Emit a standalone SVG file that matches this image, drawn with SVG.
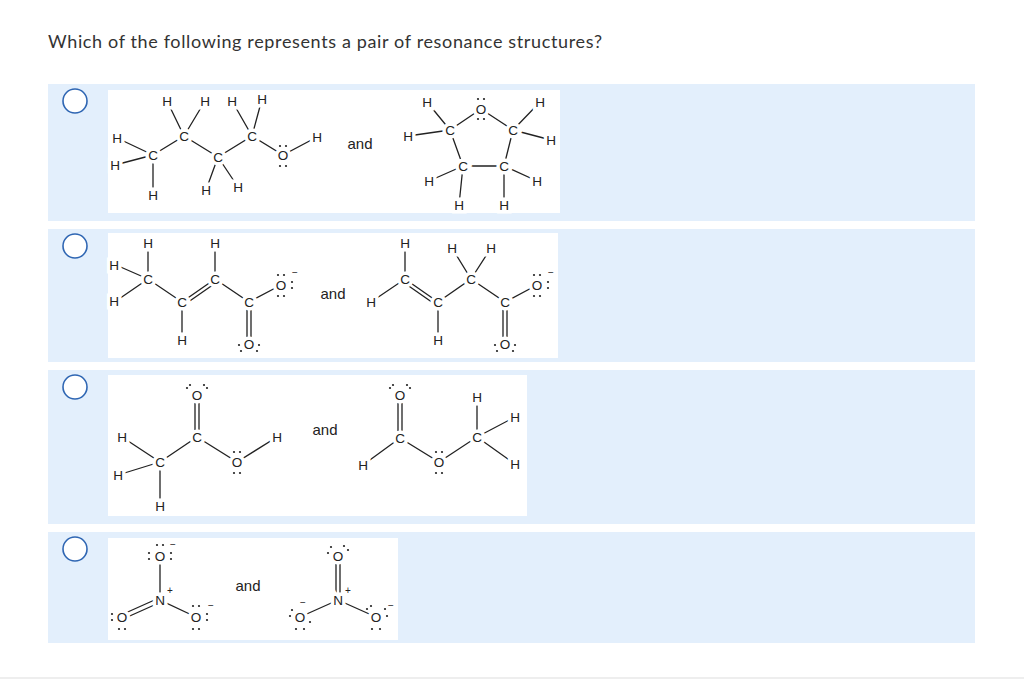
<svg xmlns="http://www.w3.org/2000/svg" width="1024" height="682" viewBox="0 0 1024 682">
<style>
.band{fill:#e3effc}
.box{fill:#fff}
.radio{fill:#fff;stroke:#2f66b3;stroke-width:1.6}
.b{stroke:#222;stroke-width:1.3;fill:none}
.a{font-family:"Liberation Sans",Arial,sans-serif;font-size:13.5px;fill:#222;text-anchor:middle;stroke:#fff;stroke-width:7;paint-order:stroke}
.t{font-family:"Liberation Sans",Arial,sans-serif;font-size:15px;fill:#222}
.s{font-family:"Liberation Sans",Arial,sans-serif;font-size:10px;fill:#222}
.d{fill:#222}
</style>
<rect width="1024" height="682" fill="#fff"/>
<text x="48" y="48" font-family="Lato,'Open Sans',sans-serif" font-size="18" fill="#333" textLength="554">Which of the following represents a pair of resonance structures?</text>
<g id="bands">
<rect class="band" x="48" y="84" width="927" height="137"/>
<rect class="band" x="48" y="229" width="927" height="133"/>
<rect class="band" x="48" y="370" width="927" height="154"/>
<rect class="band" x="48" y="532" width="927" height="111"/>
<rect class="box" x="108" y="90" width="452" height="123"/>
<rect class="box" x="108" y="233" width="450" height="125"/>
<rect class="box" x="108" y="375" width="419" height="141"/>
<rect class="box" x="108" y="538" width="290" height="102"/>
<circle class="radio" cx="75" cy="101" r="12"/>
<circle class="radio" cx="75" cy="246" r="12"/>
<circle class="radio" cx="75" cy="387" r="12"/>
<circle class="radio" cx="75" cy="549" r="12"/>
</g>
<line x1="0" y1="678" x2="1024" y2="678" stroke="#ddd" stroke-width="1"/>

<g id="connectors">
<path class="b" d="M153 155L117 138M153 155L115 165M153 155L153 195M153 155L184 136L167 101M184 136L205 101M184 136L218 157L206 190M218 157L238 187M218 157L252 136L232 101M252 136L262 99M252 136L283 155L317 137"/>
<path class="b" d="M481 109L450 130L463 166L504 166L513 130L481 109M450 130L427 102M450 130L408 136M513 130L540 102M513 130L551 140M463 166L429 181M463 166L459 205M504 166L537 181M504 166L504 205"/>
<path class="b" d="M148 279L148 243M148 279L116 265M148 279L116 301M148 279L182 302L182 340M182 302L215 279M184 305L217 282M215 279L215 243M215 279L249 302L281 285M247 302L247 344M251 302L251 344"/>
<path class="b" d="M371 302L405 279L405 243M405 279L438 302M403 282L436 305M438 302L438 340M438 302L471 279L452 248M471 279L491 248M471 279L505 302L537 285M503 302L503 344M507 302L507 344"/>
<path class="b" d="M160 462L122 437M160 462L118 475M160 462L160 506M160 462L197 437L237 462L277 437M195 437L195 395M199 437L199 395"/>
<path class="b" d="M363 465L400 438L439 462L477 437L477 397M477 437L515 417M477 437L515 464M398 438L398 395M402 438L402 395"/>
<path class="b" d="M160 556L160 600L196 617M159 598L121 615M161 602L123 619"/>
<path class="b" d="M336 556L336 600M340 556L340 600M338 600L300 617M338 600L376 617"/>
</g>

<g id="mol1a">
<text class="a" x="153" y="160">C</text><text class="a" x="117" y="143">H</text><text class="a" x="115" y="170">H</text><text class="a" x="153" y="200">H</text>
<text class="a" x="184" y="141">C</text><text class="a" x="167" y="106">H</text><text class="a" x="205" y="106">H</text>
<text class="a" x="218" y="162">C</text><text class="a" x="206" y="195">H</text><text class="a" x="238" y="192">H</text>
<text class="a" x="252" y="141">C</text><text class="a" x="232" y="106">H</text><text class="a" x="262" y="104">H</text>
<text class="a" x="283" y="160">O</text><text class="a" x="317" y="142">H</text>
<circle class="d" cx="280" cy="146" r="1.1"/><circle class="d" cx="286" cy="146" r="1.1"/><circle class="d" cx="280" cy="166" r="1.1"/><circle class="d" cx="286" cy="166" r="1.1"/>
</g>
<text class="t" x="360" y="149" text-anchor="middle">and</text>
<g id="mol1b">
<text class="a" x="481" y="114">O</text><text class="a" x="450" y="135">C</text><text class="a" x="513" y="135">C</text><text class="a" x="463" y="171">C</text><text class="a" x="504" y="171">C</text>
<text class="a" x="427" y="107">H</text><text class="a" x="408" y="141">H</text><text class="a" x="540" y="107">H</text><text class="a" x="551" y="145">H</text>
<text class="a" x="429" y="186">H</text><text class="a" x="459" y="210">H</text><text class="a" x="537" y="186">H</text><text class="a" x="504" y="210">H</text>
<circle class="d" cx="478" cy="99" r="1.1"/><circle class="d" cx="484" cy="99" r="1.1"/><circle class="d" cx="478" cy="119" r="1.1"/><circle class="d" cx="484" cy="119" r="1.1"/>
</g>

<g id="mol2a">
<text class="a" x="148" y="284">C</text><text class="a" x="148" y="248">H</text><text class="a" x="114" y="270">H</text><text class="a" x="114" y="306">H</text>
<text class="a" x="182" y="307">C</text><text class="a" x="182" y="345">H</text>
<text class="a" x="215" y="284">C</text><text class="a" x="215" y="248">H</text>
<text class="a" x="249" y="307">C</text><text class="a" x="249" y="349">O</text><text class="a" x="281" y="290">O</text>
<circle class="d" cx="278" cy="275" r="1.1"/><circle class="d" cx="284" cy="275" r="1.1"/><circle class="d" cx="292" cy="282" r="1.1"/><circle class="d" cx="292" cy="288" r="1.1"/><circle class="d" cx="278" cy="296" r="1.1"/><circle class="d" cx="284" cy="296" r="1.1"/>
<text class="s" x="292" y="276">−</text>
<circle class="d" cx="239" cy="345" r="1.1"/><circle class="d" cx="241" cy="351" r="1.1"/><circle class="d" cx="259" cy="345" r="1.1"/><circle class="d" cx="257" cy="351" r="1.1"/>
</g>
<text class="t" x="333" y="299" text-anchor="middle">and</text>
<g id="mol2b">
<text class="a" x="371" y="307">H</text><text class="a" x="405" y="284">C</text><text class="a" x="405" y="248">H</text>
<text class="a" x="438" y="307">C</text><text class="a" x="438" y="345">H</text>
<text class="a" x="471" y="284">C</text><text class="a" x="452" y="253">H</text><text class="a" x="491" y="253">H</text>
<text class="a" x="505" y="307">C</text><text class="a" x="505" y="349">O</text><text class="a" x="537" y="290">O</text>
<circle class="d" cx="534" cy="275" r="1.1"/><circle class="d" cx="540" cy="275" r="1.1"/><circle class="d" cx="548" cy="282" r="1.1"/><circle class="d" cx="548" cy="288" r="1.1"/><circle class="d" cx="534" cy="296" r="1.1"/><circle class="d" cx="540" cy="296" r="1.1"/>
<text class="s" x="548" y="276">−</text>
<circle class="d" cx="495" cy="345" r="1.1"/><circle class="d" cx="497" cy="351" r="1.1"/><circle class="d" cx="515" cy="345" r="1.1"/><circle class="d" cx="513" cy="351" r="1.1"/>
</g>

<g id="mol3a">
<text class="a" x="160" y="467">C</text><text class="a" x="122" y="442">H</text><text class="a" x="118" y="480">H</text><text class="a" x="160" y="511">H</text>
<text class="a" x="197" y="442">C</text><text class="a" x="197" y="400">O</text>
<text class="a" x="237" y="467">O</text><text class="a" x="277" y="442">H</text>
<circle class="d" cx="187" cy="388" r="1.1"/><circle class="d" cx="190" cy="385" r="1.1"/><circle class="d" cx="204" cy="385" r="1.1"/><circle class="d" cx="207" cy="388" r="1.1"/>
<circle class="d" cx="234" cy="452" r="1.1"/><circle class="d" cx="240" cy="452" r="1.1"/><circle class="d" cx="234" cy="473" r="1.1"/><circle class="d" cx="240" cy="473" r="1.1"/>
</g>
<text class="t" x="325" y="435" text-anchor="middle">and</text>
<g id="mol3b">
<text class="a" x="363" y="470">H</text><text class="a" x="400" y="443">C</text><text class="a" x="400" y="400">O</text>
<text class="a" x="439" y="467">O</text><text class="a" x="477" y="442">C</text><text class="a" x="477" y="402">H</text><text class="a" x="515" y="422">H</text><text class="a" x="515" y="469">H</text>
<circle class="d" cx="390" cy="388" r="1.1"/><circle class="d" cx="393" cy="385" r="1.1"/><circle class="d" cx="407" cy="385" r="1.1"/><circle class="d" cx="410" cy="388" r="1.1"/>
<circle class="d" cx="436" cy="452" r="1.1"/><circle class="d" cx="442" cy="452" r="1.1"/><circle class="d" cx="436" cy="473" r="1.1"/><circle class="d" cx="442" cy="473" r="1.1"/>
</g>

<g id="mol4a">
<text class="a" x="160" y="561">O</text><text class="a" x="160" y="605">N</text><text class="a" x="122" y="622">O</text><text class="a" x="196" y="622">O</text>
<text class="s" x="167" y="594">+</text><text class="s" x="170" y="548">−</text><text class="s" x="208" y="609">−</text>
<circle class="d" cx="149" cy="553" r="1.1"/><circle class="d" cx="149" cy="559" r="1.1"/><circle class="d" cx="171" cy="553" r="1.1"/><circle class="d" cx="171" cy="559" r="1.1"/><circle class="d" cx="157" cy="545" r="1.1"/><circle class="d" cx="163" cy="545" r="1.1"/>
<circle class="d" cx="112" cy="614" r="1.1"/><circle class="d" cx="112" cy="620" r="1.1"/><circle class="d" cx="119" cy="629" r="1.1"/><circle class="d" cx="125" cy="629" r="1.1"/>
<circle class="d" cx="193" cy="606" r="1.1"/><circle class="d" cx="199" cy="606" r="1.1"/><circle class="d" cx="207" cy="614" r="1.1"/><circle class="d" cx="207" cy="620" r="1.1"/><circle class="d" cx="193" cy="629" r="1.1"/><circle class="d" cx="199" cy="629" r="1.1"/>
</g>
<text class="t" x="248" y="591" text-anchor="middle">and</text>
<g id="mol4b">
<text class="a" x="338" y="561">O</text><text class="a" x="338" y="605">N</text><text class="a" x="300" y="622">O</text><text class="a" x="376" y="622">O</text>
<text class="s" x="345" y="594">+</text><text class="s" x="300" y="606">−</text><text class="s" x="388" y="609">−</text>
<circle class="d" cx="328" cy="553" r="1.1"/><circle class="d" cx="331" cy="547" r="1.1"/><circle class="d" cx="344" cy="546" r="1.1"/><circle class="d" cx="348" cy="550" r="1.1"/>
<circle class="d" cx="290" cy="616" r="1.1"/><circle class="d" cx="292" cy="610" r="1.1"/><circle class="d" cx="296" cy="629" r="1.1"/><circle class="d" cx="304" cy="629" r="1.1"/><circle class="d" cx="310" cy="622" r="1.1"/>
<circle class="d" cx="367" cy="609" r="1.1"/><circle class="d" cx="371" cy="606" r="1.1"/><circle class="d" cx="385" cy="609" r="1.1"/><circle class="d" cx="387" cy="616" r="1.1"/><circle class="d" cx="372" cy="629" r="1.1"/><circle class="d" cx="380" cy="629" r="1.1"/>
</g>
</svg>
